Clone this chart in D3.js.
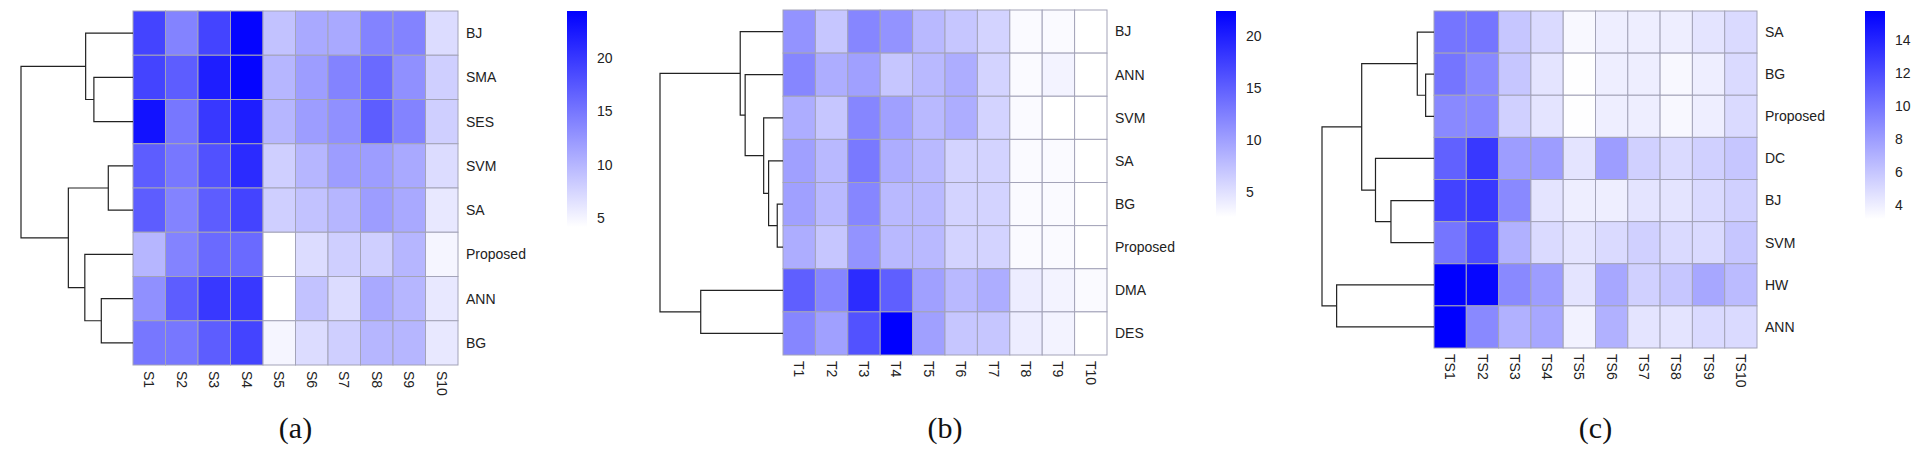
<!DOCTYPE html>
<html>
<head>
<meta charset="utf-8">
<script src="https://cdn.jsdelivr.net/npm/d3@7"></script>
<style>
  body { margin: 0; background: #fff; }
  text { font-family: "Liberation Sans", Arial, sans-serif; }
  text.caption { font-family: "Liberation Serif", "Times New Roman", serif; }
</style>
</head>
<body>
<svg id="chart" width="1928" height="468"></svg>
<script>
// ---- data ----
var rowsA = ["BJ", "SMA", "SES", "SVM", "SA", "Proposed", "ANN", "BG"];
var colsA = ["S1", "S2", "S3", "S4", "S5", "S6", "S7", "S8", "S9", "S10"];
var valuesA = [
  [19, 14, 19, 24, 9, 11, 11, 14, 14, 7],
  [19, 17, 22, 24, 10, 12, 14, 16, 13, 8],
  [23, 15, 20, 22, 10, 12, 13, 17, 14, 8],
  [17, 15, 18, 21, 8, 10, 12, 12, 11, 7],
  [17, 14, 17, 19, 8, 9, 10, 12, 11, 6],
  [10, 14, 16, 16, 4, 7, 8, 8, 10, 5],
  [13, 17, 20, 20, 4, 9, 7, 11, 10, 6],
  [15, 15, 17, 19, 5, 7, 8, 10, 10, 6]
];
var ticksA = [5, 10, 15, 20];
// tree: [left, right, height]
var treeA = [[0, [1, 2, 95], 115], [[3, 4, 60], [5, [6, 7, 77], 117], 157], 272];

var rowsB = ["BJ", "ANN", "SVM", "SA", "BG", "Proposed", "DMA", "DES"];
var colsB = ["T1", "T2", "T3", "T4", "T5", "T6", "T7", "T8", "T9", "T10"];
var valuesB = [
  [11, 7, 12, 11, 8, 7, 6, 3, 3, 2.6],
  [12, 9, 10, 7, 8, 9, 6, 3, 3.5, 2.6],
  [9, 7, 12, 10, 8, 9, 6, 3, 2.6, 2.6],
  [10, 8, 13, 9, 8, 6, 6, 3, 3, 2.6],
  [10, 8, 12, 8, 8, 6, 6, 3, 3, 2.6],
  [9, 7, 11, 8, 8, 6, 6, 3, 3, 2.6],
  [15, 12, 19, 15, 10, 8, 9, 4, 3.5, 3],
  [12, 10, 16, 22.4, 10, 7, 7, 4, 3.5, 2.6]
];
var ticksB = [5, 10, 15, 20];
var treeB = [[0, [1, [2, [3, [4, 5, 14], 35], 47], 92], 104], [6, 7, 200], 299];

var rowsC = ["SA", "BG", "Proposed", "DC", "BJ", "SVM", "HW", "ANN"];
var colsC = ["TS1", "TS2", "TS3", "TS4", "TS5", "TS6", "TS7", "TS8", "TS9", "TS10"];
var valuesC = [
  [10, 10, 6, 5, 3.5, 4, 4, 4, 4.5, 5],
  [10, 9, 6, 4.5, 3.2, 4, 4, 3.5, 4, 5],
  [9, 9, 5.5, 4.5, 3.2, 4, 4, 3.5, 4, 5],
  [11, 13, 8, 8, 4.5, 8, 5.5, 5, 5.5, 6],
  [12.5, 13, 9, 4.5, 4, 4, 4.5, 4.5, 5, 5.5],
  [10, 12, 7, 5, 4.5, 5, 5.5, 5, 5, 6],
  [15.8, 15.5, 9, 8, 4.5, 7.5, 5.5, 6, 7.5, 6.5],
  [15.8, 9, 7, 7.5, 3.8, 7, 4.5, 4.5, 5, 5]
];
var ticksC = [4, 6, 8, 10, 12, 14];
var treeC = [[[0, [1, 2, 20], 40], [3, [4, 5, 103], 140], 173], [6, 7, 233], 268];

var svg = d3.select("#chart");

function drawPanel(p) {
  var g = svg.append("g");
  var x = d3.scaleBand().domain(p.cols).range([p.left, p.right]);
  var y = d3.scaleBand().domain(p.rows).range([p.top, p.bottom]);
  var color = d3.scaleLinear().domain(p.domain).range(["#ffffff", "#0000ff"]).clamp(true);

  var cells = [];
  p.values.forEach(function(r, i) {
    r.forEach(function(v, j) { cells.push({ row: p.rows[i], col: p.cols[j], v: v }); });
  });
  g.selectAll("rect.cell").data(cells).enter().append("rect")
    .attr("x", d => x(d.col))
    .attr("y", d => y(d.row))
    .attr("width", x.bandwidth())
    .attr("height", y.bandwidth())
    .attr("fill", d => color(d.v))
    .attr("stroke", "#a3a3b8")
    .attr("stroke-width", 1);

  // row labels
  g.selectAll("text.row").data(p.rows).enter().append("text")
    .attr("x", p.right + 8)
    .attr("y", d => y(d) + y.bandwidth() / 2)
    .attr("dy", "0.35em")
    .attr("font-size", 14)
    .attr("fill", "#222")
    .text(d => d);

  // column labels, rotated
  g.selectAll("text.col").data(p.cols).enter().append("text")
    .attr("transform", d => `translate(${x(d) + x.bandwidth() / 2},${p.bottom + 6}) rotate(90)`)
    .attr("dy", "0.35em")
    .attr("font-size", 14)
    .attr("fill", "#222")
    .text(d => d);

  // dendrogram
  var hx = d3.scaleLinear().domain([0, p.tree[2]]).range([p.left, p.rootX]);
  var line = g.append("g").attr("stroke", "#222").attr("fill", "none").attr("stroke-width", 1.2);
  function walk(node) {
    if (typeof node === "number") {
      return { y: y(p.rows[node]) + y.bandwidth() / 2, h: 0 };
    }
    var a = walk(node[0]), b = walk(node[1]);
    var h = node[2];
    line.append("path").attr("d",
      `M${hx(a.h)},${a.y}H${hx(h)}V${b.y}H${hx(b.h)}`);
    return { y: (a.y + b.y) / 2, h: h };
  }
  walk(p.tree);

  // colour bar
  var gid = "grad" + p.name;
  var grad = svg.append("defs").append("linearGradient")
    .attr("id", gid).attr("x1", 0).attr("y1", 1).attr("x2", 0).attr("y2", 0);
  grad.append("stop").attr("offset", "0%").attr("stop-color", "#ffffff");
  grad.append("stop").attr("offset", "100%").attr("stop-color", "#0000ff");
  g.append("rect")
    .attr("x", p.barX).attr("y", p.barTop)
    .attr("width", 20).attr("height", p.barBottom - p.barTop)
    .attr("fill", `url(#${gid})`);
  var cy = d3.scaleLinear().domain(p.domain).range([p.barBottom, p.barTop]);
  g.selectAll("text.tick").data(p.ticks).enter().append("text")
    .attr("x", p.barX + 30)
    .attr("y", d => cy(d))
    .attr("dy", "0.35em")
    .attr("font-size", 14)
    .attr("fill", "#222")
    .text(d => d);

  // caption
  g.append("text")
    .attr("class", "caption")
    .attr("x", (p.left + p.right) / 2)
    .attr("y", 438)
    .attr("text-anchor", "middle")
    .attr("font-size", 30)
    .attr("fill", "#111")
    .text(p.caption);
}

drawPanel({ name: "a", rows: rowsA, cols: colsA, values: valuesA, ticks: ticksA, tree: treeA,
  left: 133, right: 458, top: 11, bottom: 365, rootX: 21, domain: [4.2, 24.4],
  barX: 567, barTop: 11, barBottom: 227, caption: "(a)" });
drawPanel({ name: "b", rows: rowsB, cols: colsB, values: valuesB, ticks: ticksB, tree: treeB,
  left: 783, right: 1107, top: 10, bottom: 355, rootX: 660, domain: [2.6, 22.4],
  barX: 1216, barTop: 11, barBottom: 217, caption: "(b)" });
drawPanel({ name: "c", rows: rowsC, cols: colsC, values: valuesC, ticks: ticksC, tree: treeC,
  left: 1434, right: 1757, top: 11, bottom: 348, rootX: 1322, domain: [3.15, 15.8],
  barX: 1865, barTop: 11, barBottom: 219, caption: "(c)" });
</script>
</body>
</html>
